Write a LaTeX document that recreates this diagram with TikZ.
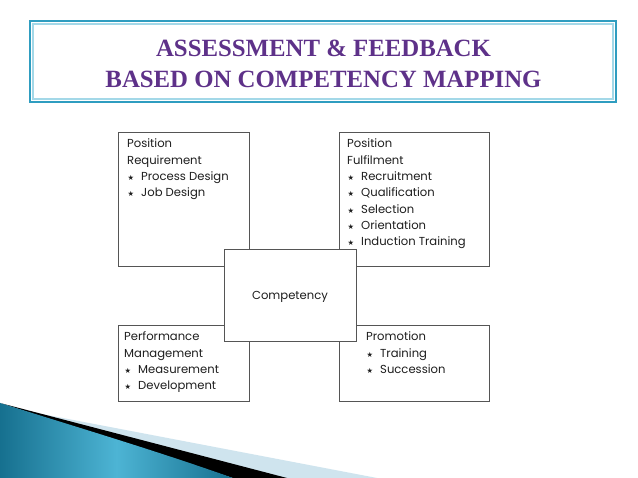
\documentclass[tikz,border=0pt]{standalone}
\usepackage{fontspec}
\setmainfont{Poppins}
\newfontfamily\titlefont{Liberation Serif}
\newfontfamily\symfont{DejaVu Sans}
\definecolor{ttl}{HTML}{5E3189}
\definecolor{frameout}{HTML}{2F9DC0}
\definecolor{framein}{HTML}{A3D8E8}
\definecolor{boxline}{HTML}{555555}
\definecolor{txt}{HTML}{1E1E1E}
\definecolor{tealdark}{HTML}{16708F}
\definecolor{teallight}{HTML}{4DB4D4}
\definecolor{paleblue}{HTML}{CFE4EE}
\tikzset{
  panel/.style={draw=boxline, line width=0.9pt},
  line/.style={anchor=base west, inner sep=0pt, text=txt, font=\fontsize{11.6}{13}\selectfont},
  staritem/.style={anchor=base west, inner sep=0pt, text=txt, font=\symfont\fontsize{7.2}{8}\selectfont},
  titletext/.style={inner sep=0pt, anchor=base, text=ttl, font=\titlefont\bfseries\fontsize{24.8}{28}\selectfont}
}
\begin{document}
\begin{tikzpicture}[x=1pt,y=-1pt]
\useasboundingbox (0,0) rectangle (638,478);
\fill[white] (0,0) rectangle (638,478);
% title frame
\draw[frameout, line width=2.5pt] (30,21) rectangle (616,102);
\draw[framein, line width=1.5pt] (33,24) rectangle (613,99);
\node[titletext] (t1) at (323.5,57) {ASSESSMENT \& FEEDBACK};
\node[titletext] (t2) at (323.5,88) {BASED ON COMPETENCY MAPPING};
% swoosh
\fill[paleblue] (0,406) -- (377,478) -- (0,478) -- cycle;
\fill[black] (0,403) -- (287,478) -- (233,478) -- cycle;
\shade[left color=tealdark, right color=tealdark, middle color=teallight]
  (0,403) .. controls (80,428) and (160,452) .. (233,478) -- (0,478) -- cycle;
% boxes
\draw[panel] (118,132) rectangle (249,266);
\draw[panel] (339,132) rectangle (489,266);
\draw[panel] (118,325) rectangle (249,401);
\draw[panel] (339,325) rectangle (489,401);
\filldraw[panel, fill=white] (224,249) rectangle (356,341);
% top-left text
\node[line] (tla) at (127,148) {Position};
\node[line] (tlb) at (127,164.3) {Requirement};
\node[staritem] (tls1) at (127.5,180.6) {★};
\node[line] (tlc) at (141,180.6) {Process Design};
\node[staritem] (tls2) at (127.5,196.9) {★};
\node[line] (tld) at (141,196.9) {Job Design};
% top-right text
\node[line] (tra) at (347,148) {Position};
\node[line] (trb) at (347,164.3) {Fulfilment};
\foreach \t [count=\i] in {Recruitment,Qualification,Selection,Orientation,Induction Training}{
  \node[staritem] (trs\i) at (347.5,164.3+16.3*\i) {★};
  \node[line] (tri\i) at (361,164.3+16.3*\i) {\t};
}
% bottom-left text
\node[line] (bla) at (124,341) {Performance};
\node[line] (blb) at (124,357.3) {Management};
\node[staritem] (bls1) at (124.5,373.6) {★};
\node[line] (blc) at (138,373.6) {Measurement};
\node[staritem] (bls2) at (124.5,389.9) {★};
\node[line] (bld) at (138,389.9) {Development};
% bottom-right text
\node[line] (bra) at (366,341) {Promotion};
\node[staritem] (brs1) at (366.5,357.3) {★};
\node[line] (brb) at (380,357.3) {Training};
\node[staritem] (brs2) at (366.5,373.6) {★};
\node[line] (brc) at (380,373.6) {Succession};
% centre
\node[inner sep=0pt, anchor=base, text=txt, font=\fontsize{11.6}{13}\selectfont] (comp) at (290,299.5) {Competency};
\end{tikzpicture}
\end{document}
